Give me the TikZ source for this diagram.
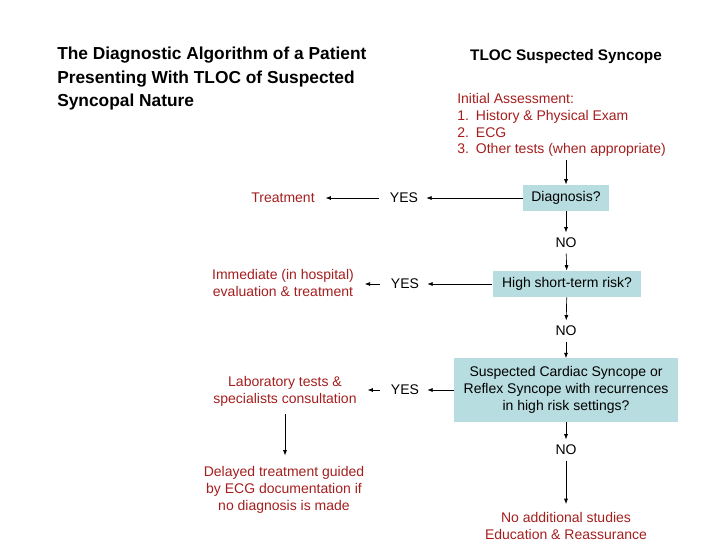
\documentclass[tikz,border=0pt]{standalone}
\usepackage{fontspec}
\setmainfont{Liberation Sans}
\usetikzlibrary{arrows.meta}
\definecolor{darkred}{RGB}{165,30,30}
\definecolor{boxfill}{RGB}{183,221,224}
\tikzset{
  every node/.style={font=\fontsize{10.5}{12.8}\selectfont, inner sep=0pt},
  box/.style={fill=boxfill, align=center, inner xsep=6pt, inner ysep=5pt},
  red/.style={text=darkred, align=center},
  arr/.style={-{Latex[length=4pt,width=3pt]}, line width=0.5pt},
}
\begin{document}
\begin{tikzpicture}[x=0.75pt,y=-0.75pt]
\useasboundingbox (0,0) rectangle (728,546);
\node[anchor=north west, align=left, font=\bfseries\fontsize{13}{17.5}\selectfont] (title) at (57,47)
  {The Diagnostic Algorithm of a Patient\\Presenting With TLOC of Suspected\\Syncopal Nature};
\node[font=\bfseries\fontsize{11.5}{13}\selectfont] (tloc) at (566,57) {TLOC Suspected Syncope};
\node[anchor=north west, align=left, text=darkred, font=\fontsize{10.5}{12.6}\selectfont] (init) at (457,93)
  {Initial Assessment:\\1.\enspace History \& Physical Exam\\2.\enspace ECG\\3.\enspace Other tests (when appropriate)};
\coordinate (top) at (566,160);
\node[box] (diag) at (566,198) {Diagnosis?};
\node (yes1) at (404,198) {YES};
\node[red] (treat) at (283,198) {Treatment};
\node (no1) at (566,243) {NO};
\node[box, inner xsep=7pt] (risk) at (567,284) {High short-term risk?};
\node (yes2) at (405,284) {YES};
\node[red] (imm) at (283,283) {Immediate (in hospital)\\evaluation \& treatment};
\node (no2) at (566,331) {NO};
\node[box, inner xsep=7pt, inner ysep=6pt] (card) at (566,390)
  {Suspected Cardiac Syncope or\\Reflex Syncope with recurrences\\in high risk settings?};
\node (yes3) at (405,390) {YES};
\node[red] (lab) at (285,391) {Laboratory tests \&\\specialists consultation};
\node (no3) at (566,450) {NO};
\node[red] (delay) at (284,490) {Delayed treatment guided\\by ECG documentation if\\no diagnosis is made};
\node[red] (noadd) at (566,526) {No additional studies\\Education \& Reassurance};
\draw[arr] (top) -- (diag.north);
\draw[arr, shorten >=6pt] (diag) -- (yes1);
\draw[arr, shorten <=8pt, shorten >=8pt] (yes1) -- (treat);
\draw[arr, shorten >=4pt] (diag) -- (no1);
\draw[arr, shorten <=4pt] (no1) -- (risk);
\draw[arr, shorten >=6pt] (risk) -- (yes2);
\draw[arr, shorten <=8pt, shorten >=8pt] (yes2) -- (yes2 -| imm.east);
\draw[arr, shorten >=4pt] (risk) -- (no2);
\draw[arr, shorten <=4pt] (no2) -- (card);
\draw[arr, shorten >=6pt] (card) -- (yes3);
\draw[arr, shorten <=8pt, shorten >=8pt] (yes3) -- (yes3 -| lab.east);
\draw[arr, shorten <=6pt, shorten >=8pt] (lab.south) -- (lab.south |- delay.north);
\draw[arr, shorten >=4pt] (card) -- (no3);
\draw[arr, shorten <=4pt, shorten >=6pt] (no3) -- (no3 |- noadd.north);
\end{tikzpicture}
\end{document}
